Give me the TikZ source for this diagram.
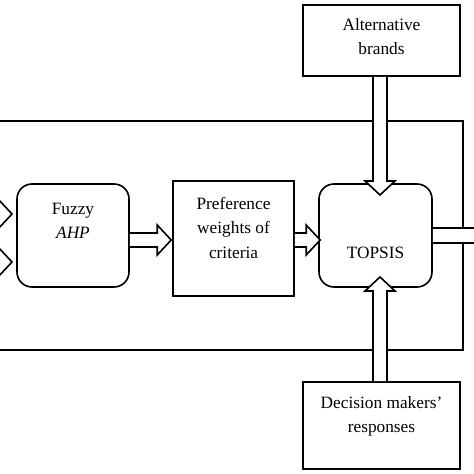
\documentclass[tikz,border=0pt]{standalone}
\usepackage{fontspec}
\setmainfont{Liberation Serif}
\usetikzlibrary{calc}
\tikzset{
  boxsq/.style={draw, line width=1.6pt, align=center, inner sep=0pt,
    font=\fontsize{17.3}{24.5}\selectfont},
  boxrd/.style={boxsq, rounded corners=15pt},
  barrow/.style={draw, line width=1.6pt, fill=white, line join=miter},
  frame/.style={draw, line width=1.6pt}
}
\newcommand\blockarrow[3][7pt]{%
  \coordinate (ba-h) at ($(#3)!14pt!(#2)$);
  \path[barrow] ($(#2)!#1!90:(#3)$) -- ($(ba-h)!#1!-90:(#2)$) -- ($(ba-h)!15pt!-90:(#2)$) -- (#3)
     -- ($(ba-h)!15pt!90:(#2)$) -- ($(ba-h)!#1!90:(#2)$) -- ($(#2)!#1!-90:(#3)$);
}
\begin{document}
\begin{tikzpicture}[x=1pt,y=1pt]
\useasboundingbox (0,0) rectangle (474,474);
\clip (0,0) rectangle (474,474);
% outer frame
\path[frame] (-20,124) rectangle (463,353);
% nodes
\node[boxrd, minimum width=112pt, minimum height=103pt] (fz) at (73,238.5) {Fuzzy\\\textit{AHP}\\[5pt]\mbox{}};
\node[boxsq, minimum width=121pt, minimum height=115pt] (pw) at (233.5,235.5) {Preference\\weights of\\criteria\\[-3pt]\mbox{}};
\node[boxrd, minimum width=113pt, minimum height=103pt] (tp) at (375.5,238.5) {\mbox{}\\[22.5pt]TOPSIS};
\node[boxsq, minimum width=157pt, minimum height=71pt] (ab) at (381.5,433.5) {Alternative\\brands\\[-16.5pt]\mbox{}};
\node[boxsq, minimum width=157pt, minimum height=87pt] (dm) at (381.5,48.5) {Decision makers'\\responses\\[-2pt]\mbox{}};
% arrow coordinates
\coordinate (l1s) at (-30,260);
\coordinate (l1t) at (12,260);
\coordinate (l2s) at (-30,212);
\coordinate (l2t) at (12,212);
\coordinate (a1s) at (fz.east |- 0,234);
\coordinate (a1t) at ($(pw.west |- 0,234)+(-1,0)$);
\coordinate (a2s) at (pw.east |- 0,234);
\coordinate (a2t) at ($(tp.west |- 0,234)+(2,0)$);
\coordinate (a3s) at (380,0 |- ab.south);
\coordinate (a3t) at (380,279);
\coordinate (a4s) at (380,0 |- dm.north);
\coordinate (a4t) at (380,197);
\coordinate (a5s) at (tp.east |- 0,238.5);
\coordinate (a5t) at (500,238.5);
% arrows
\blockarrow{l1s}{l1t}
\blockarrow{l2s}{l2t}
\blockarrow{a1s}{a1t}
\blockarrow{a2s}{a2t}
\blockarrow{a3s}{a3t}
\blockarrow{a4s}{a4t}
\blockarrow[7.5pt]{a5s}{a5t}
\end{tikzpicture}
\end{document}
